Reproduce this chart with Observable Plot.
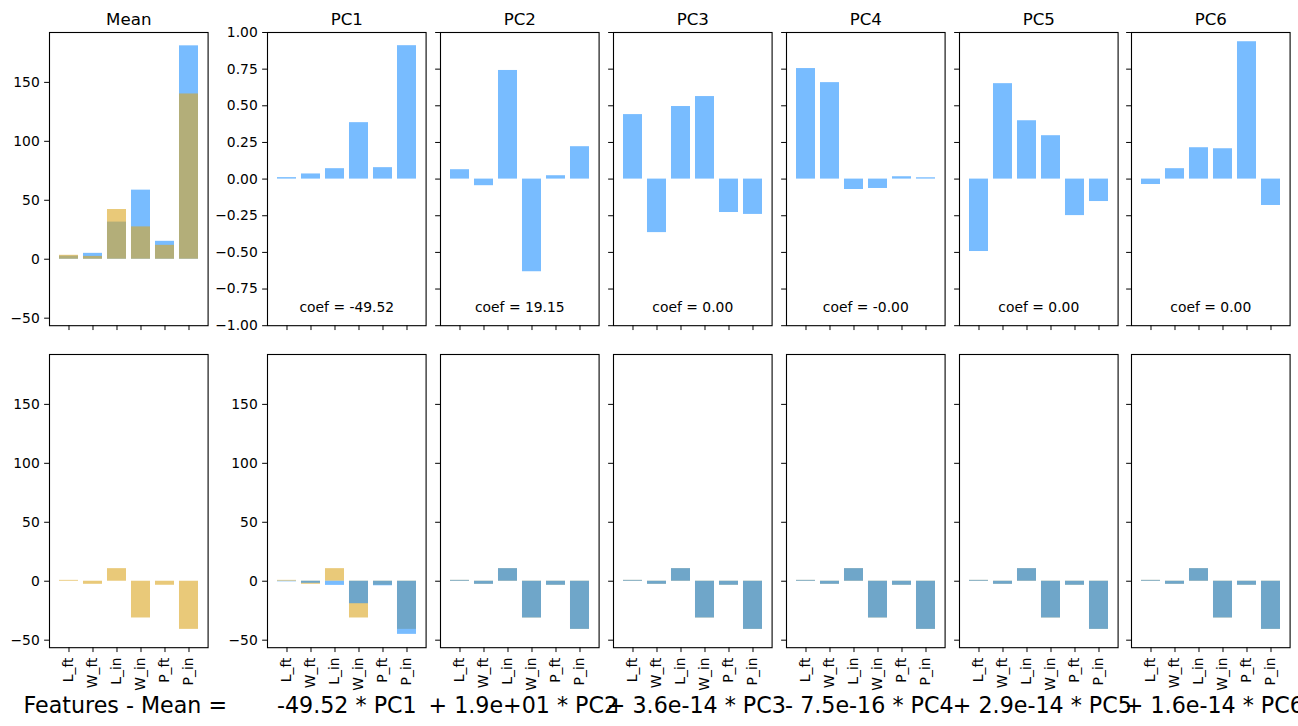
<!DOCTYPE html>
<html>
<head>
<meta charset="utf-8">
<script src="https://cdn.jsdelivr.net/npm/d3@7"></script>
<script src="https://cdn.jsdelivr.net/npm/@observablehq/plot@0.6"></script>
<style>
  html, body { margin: 0; padding: 0; background: #fff; overflow: hidden; }
  #fig { position: relative; width: 1298px; height: 726px; font-family: "DejaVu Sans", sans-serif; }
  #fig svg { position: absolute; }
</style>
</head>
<body>
<div id="fig"></div>
<script>
// Feature names (feet / inches for length, width, perimeter)
const featureNames = ["L_ft", "W_ft", "L_in", "W_in", "P_ft", "P_in"];

// Mean of the dataset and the single sample being decomposed
const meanValues   = [2.6, 5.0, 31.5, 58.6, 15.2, 181.0];
const sampleValues = [3.33, 2.40, 42.17, 27.43, 11.78, 140.17];

// Principal component loadings
const pc1 = [0.010, 0.035, 0.071, 0.385, 0.078, 0.910];
const pc2 = [0.064, -0.045, 0.741, -0.632, 0.023, 0.221];
const pc3 = [0.440, -0.365, 0.495, 0.563, -0.228, -0.241];
const pc4 = [0.754, 0.658, -0.071, -0.064, 0.016, 0.009];
const pc5 = [-0.494, 0.651, 0.398, 0.296, -0.249, -0.153];
const pc6 = [-0.037, 0.071, 0.214, 0.207, 0.937, -0.180];

// Projection coefficients of (sample - mean) on each component
const coefs = [-49.52, 19.15, 3.6e-14, -7.5e-16, 2.9e-14, 1.6e-14];

const pcNames = ["PC1", "PC2", "PC3", "PC4", "PC5", "PC6"];
const pcs = [pc1, pc2, pc3, pc4, pc5, pc6];

// ---- derived series ----
const rows = vals => featureNames.map((f, i) => ({feature: f, value: vals[i]}));
const diffValues = sampleValues.map((v, i) => v - meanValues[i]);
const recon = [];
{
  let acc = featureNames.map(() => 0);
  pcs.forEach((pc, k) => {
    acc = acc.map((a, i) => a + coefs[k] * pc[i]);
    recon.push(acc.slice());
  });
}

// shared value scale with a 5% margin around all plotted values
const allVals = [0, ...meanValues, ...sampleValues, ...diffValues, ...recon.flat()];
const [vmin, vmax] = d3.extent(allVals);
const vpad = 0.05 * (vmax - vmin);
const valueDomain = [vmin - vpad, vmax + vpad];

// ---- layout ----
const frameLefts = [49.3, 267.3, 440.1, 612.9, 785.7, 958.5, 1131.3];
const frameW = 158.6;
const rowTops = [31.8, 354.2];
const frameH = 293.2;
const ML = 62, MR = 8, MT = 34;
const MB_TOP = 20, MB_BOTTOM = 82;

const BLUE = "dodgerblue";
const GOLD = "goldenrod";
const ALPHA = 0.6;
const TICK = 4.86;
const TICK_FONT = 13.9;

const fmtExp = v => {
  const [m, e] = Math.abs(v).toExponential(1).split("e");
  return `${m}e${e[0]}${e.slice(1).padStart(2, "0")}`;
};
const equationLabel = k => k === 0
  ? `${coefs[0].toFixed(2)} * ${pcNames[0]}`
  : ` ${coefs[k] < 0 ? "-" : "+"} ${fmtExp(coefs[k])} * ${pcNames[k]}`;

const fig = document.getElementById("fig");

function panel({col, row, yDomain, yTicks, yFormat, showYLabels, bars, title, note, equation}) {
  const bottomRow = row === 1;
  const MB = bottomRow ? MB_BOTTOM : MB_TOP;
  const marks = [];
  for (const b of bars) {
    marks.push(Plot.barY(rows(b.values), {
      x: "feature", y1: 0, y2: "value", fill: b.color, fillOpacity: ALPHA
    }));
  }
  marks.push(Plot.frame({stroke: "black", strokeWidth: 1.1}));
  marks.push(Plot.axisY({
    ticks: yTicks, tickSize: TICK, tickPadding: 4.9, label: null,
    tickFormat: showYLabels ? yFormat : () => "", fontSize: TICK_FONT
  }));
  if (bottomRow) {
    marks.push(Plot.axisX({
      tickSize: TICK, tickPadding: 4.9, tickRotate: -90, label: null, fontSize: TICK_FONT
    }));
  } else {
    marks.push(Plot.axisX({tickSize: TICK, label: null, tickFormat: () => ""}));
  }
  if (title) {
    marks.push(Plot.text([title], {
      text: d => d, frameAnchor: "top", lineAnchor: "bottom", dy: -7.8, fontSize: 16.67
    }));
  }
  if (note) {
    marks.push(Plot.text([note], {
      text: d => d, frameAnchor: "bottom", lineAnchor: "bottom", dy: -13.5, fontSize: TICK_FONT
    }));
  }
  if (equation) {
    marks.push(Plot.text([equation], {
      text: d => d, frameAnchor: "bottom", lineAnchor: "bottom", dy: 65.4, fontSize: 22.2
    }));
  }
  const svg = Plot.plot({
    width: ML + frameW + MR,
    height: MT + frameH + MB,
    marginLeft: ML, marginRight: MR, marginTop: MT, marginBottom: MB,
    style: {overflow: "visible", background: "transparent", color: "black",
            fontFamily: "DejaVu Sans", fontSize: TICK_FONT + "px"},
    x: {type: "band", domain: featureNames, paddingInner: 0.2, paddingOuter: 0.29, align: 0.5},
    y: {domain: yDomain},
    marks
  });
  svg.style.left = (frameLefts[col] - ML) + "px";
  svg.style.top = (rowTops[row] - MT) + "px";
  fig.appendChild(svg);
}

const valueTicks = [-50, 0, 50, 100, 150];
const valueFmt = d3.format("d");
const loadTicks = d3.range(-1, 1.0001, 0.25);
const loadFmt = d3.format(".2f");

// top row: mean vs sample, then loadings
panel({col: 0, row: 0, yDomain: valueDomain, yTicks: valueTicks, yFormat: valueFmt, showYLabels: true,
       bars: [{values: meanValues, color: BLUE}, {values: sampleValues, color: GOLD}], title: "Mean"});
pcs.forEach((pc, k) => {
  panel({col: k + 1, row: 0, yDomain: [-1, 1], yTicks: loadTicks, yFormat: loadFmt, showYLabels: k === 0,
         bars: [{values: pc, color: BLUE}], title: pcNames[k], note: `coef = ${coefs[k].toFixed(2)}`});
});

// bottom row: sample - mean, and the cumulative reconstruction
panel({col: 0, row: 1, yDomain: valueDomain, yTicks: valueTicks, yFormat: valueFmt, showYLabels: true,
       bars: [{values: diffValues, color: GOLD}], equation: "Features - Mean = "});
pcs.forEach((pc, k) => {
  panel({col: k + 1, row: 1, yDomain: valueDomain, yTicks: valueTicks, yFormat: valueFmt, showYLabels: k === 0,
         bars: [{values: diffValues, color: GOLD}, {values: recon[k], color: BLUE}],
         equation: equationLabel(k)});
});
</script>
</body>
</html>
